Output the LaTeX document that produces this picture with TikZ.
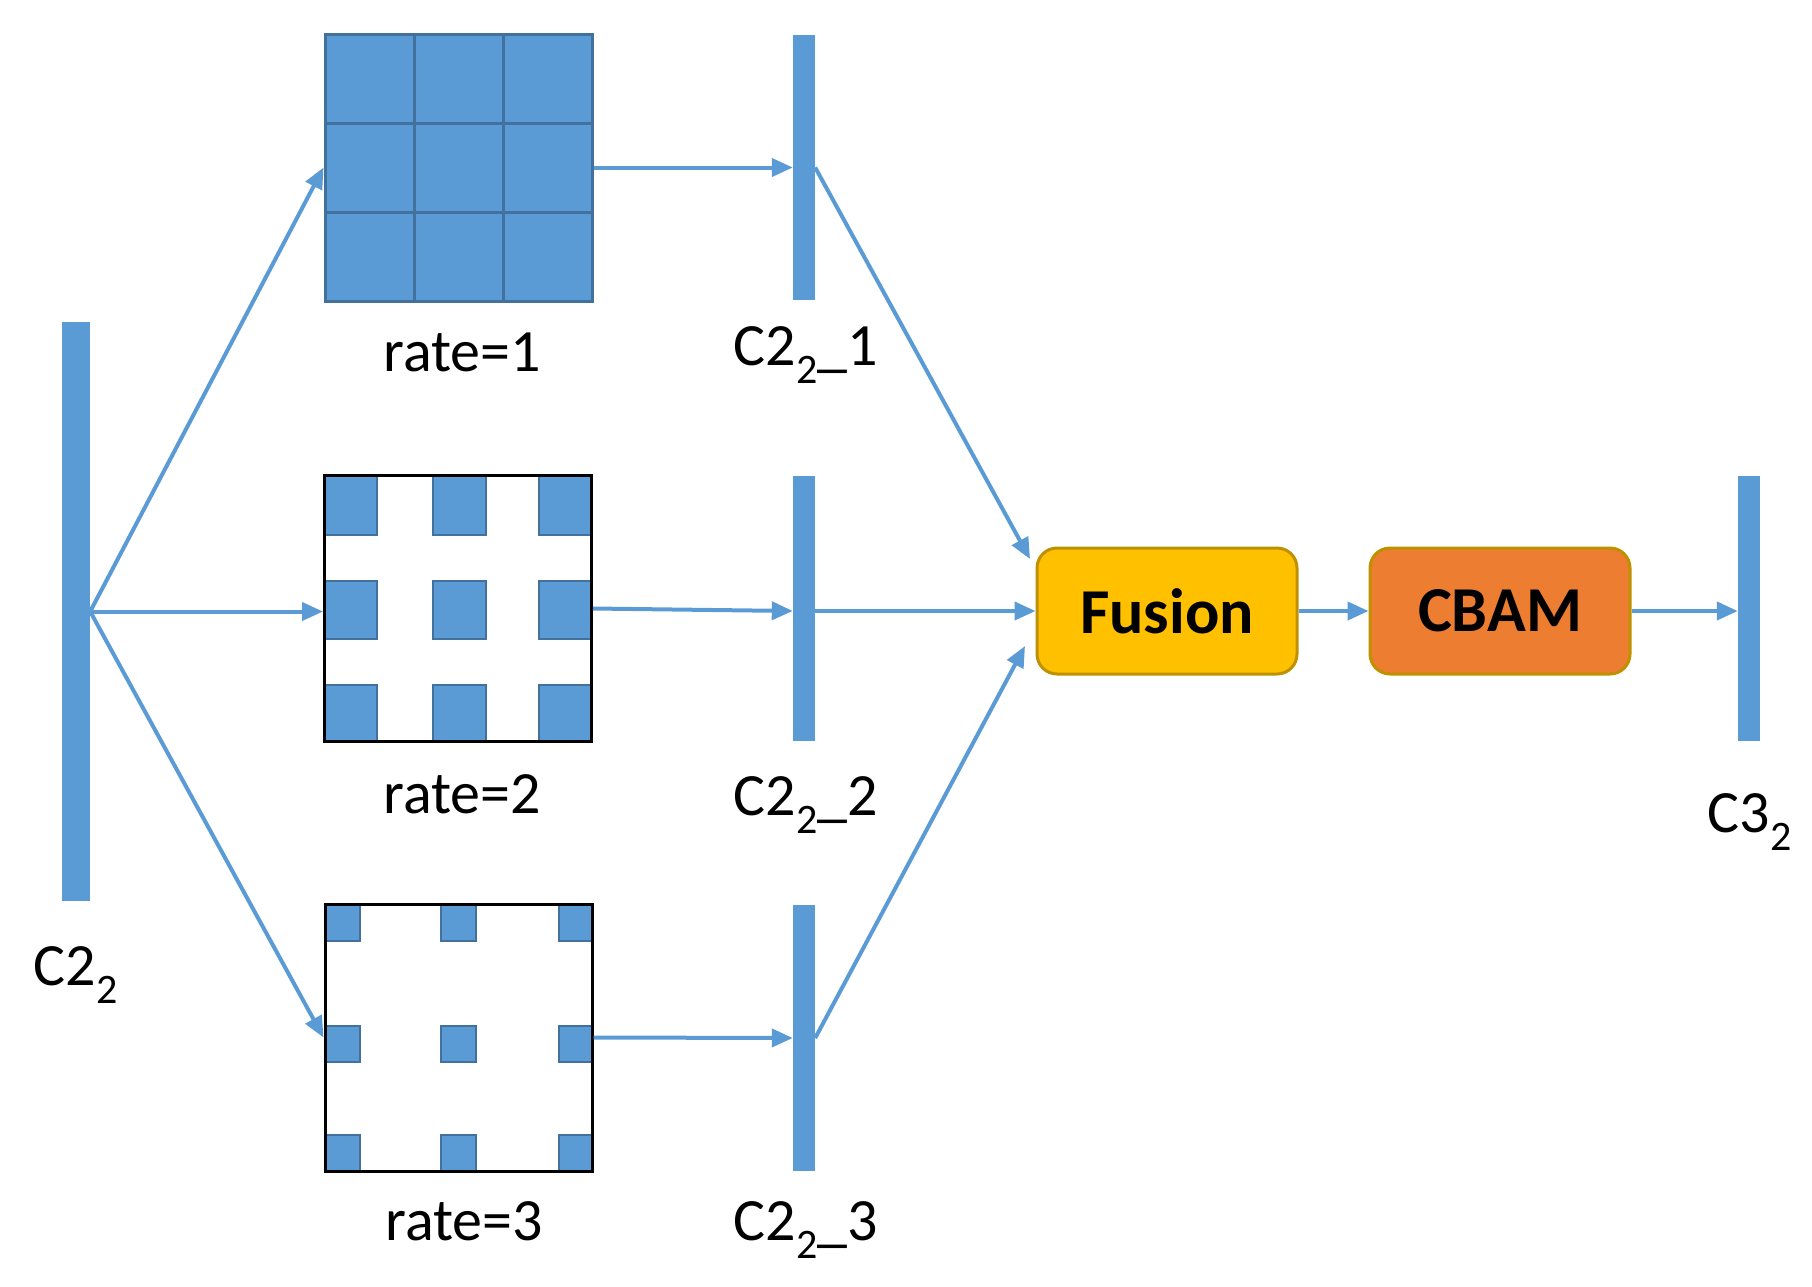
\documentclass[tikz,border=0pt]{standalone}
\usepackage{fontspec}
\setmainfont{Carlito}
\usetikzlibrary{arrows.meta}
\definecolor{cblue}{HTML}{5B9BD5}
\definecolor{cdark}{HTML}{41719C}
\definecolor{cyel}{HTML}{FFC000}
\definecolor{corg}{HTML}{ED7D31}
\definecolor{cgold}{HTML}{BF9000}
\begin{document}
\begin{tikzpicture}[x=1pt,y=-1pt,
  bar/.style={rectangle,fill=cblue,draw=none,inner sep=0pt,minimum width=22pt},
  kbox/.style={rectangle,draw=black,line width=3pt,inner sep=0pt,minimum width=267pt,minimum height=266pt},
  gbox/.style={rectangle,fill=cblue,draw=cdark,line width=3pt,inner sep=0pt,minimum width=267pt,minimum height=267pt},
  cell/.style={fill=cblue,draw=cdark,line width=2.5pt},
  lbl/.style={anchor=base,inner sep=0pt,font=\fontsize{60}{64}\selectfont},
  blk/.style={rectangle,rounded corners=20pt,draw=cgold,line width=3pt,minimum width=260pt,minimum height=126pt,inner sep=0pt,font=\fontsize{64}{68}\selectfont\bfseries},
  arr/.style={draw=cblue,line width=4pt,-{Triangle[length=21pt,width=18pt]}}
]
\useasboundingbox (0,0) rectangle (1812,1286);
% bars
\node[bar,minimum width=28pt,minimum height=579pt] (c2) at (76,611.5) {};
\node[bar,minimum height=265pt] (b1) at (804,167.5) {};
\node[bar,minimum height=265pt] (b2) at (804,608.5) {};
\node[bar,minimum height=266pt] (b3) at (804,1038) {};
\node[bar,minimum height=265pt] (c3) at (1749,608.5) {};
% rate=1 grid
\node[gbox] (r1) at (458.5,167.5) {};
\draw[cdark,line width=3pt] (414,34) -- (414,301) (503,34) -- (503,301)
  (325,123) -- (592,123) (325,212) -- (592,212);
% rate=2 box
\foreach \xa/\xb in {325/377,433/486,539/591}
  \foreach \ya/\yb in {476/535,581/639,685/741}
    \draw[cell] (\xa,\ya) rectangle (\xb,\yb);
\node[kbox] (r2) at (458,608.5) {};
% rate=3 box
\foreach \xa/\xb in {325/360,441/476,559/592}
  \foreach \ya/\yb in {904/941,1026/1062,1135/1171}
    \draw[cell] (\xa,\ya) rectangle (\xb,\yb);
\node[kbox,minimum height=267pt] (r3) at (458.5,1037.5) {};
% blocks
\node[blk,fill=cyel] (fus) at (1167,611) {Fusion};
\node[blk,fill=corg] (cb) at (1500,611) {CBAM};
% labels
\node[lbl] (t1) at (462,371) {rate=1};
\node[lbl] (t2) at (462,813) {rate=2};
\node[lbl] (t3) at (464,1240) {rate=3};
\node[lbl] (n1) at (806,365) {C2\textsubscript{2}\_1};
\node[lbl] (n2) at (806,815) {C2\textsubscript{2}\_2};
\node[lbl] (n3) at (806,1240) {C2\textsubscript{2}\_3};
\node[lbl] (n0) at (76,985) {C2\textsubscript{2}};
\node[lbl] (n4) at (1750,832) {C3\textsubscript{2}};
% connectors
\coordinate (fin1) at (1030,559);
\coordinate (fin3) at (1025,646);
\draw[arr] (c2.east) -- (r1.west);
\draw[arr] (c2.east) -- (c2.east -| r2.west);
\draw[arr] (c2.east) -- (r3.west);
\draw[arr] (r1.east) -- (b1.west);
\draw[arr] (r2.east) -- (b2.west |- fus.west);
\draw[arr] (r3.east) -- (b3.west);
\draw[arr] (b1.east) -- (fin1);
\draw[arr] (b2.east |- fus.west) -- (fus.west);
\draw[arr] (b3.east) -- (fin3);
\draw[arr] (fus.east) -- (cb.west);
\draw[arr] (cb.east) -- (cb.east -| c3.west);
\end{tikzpicture}
\end{document}
